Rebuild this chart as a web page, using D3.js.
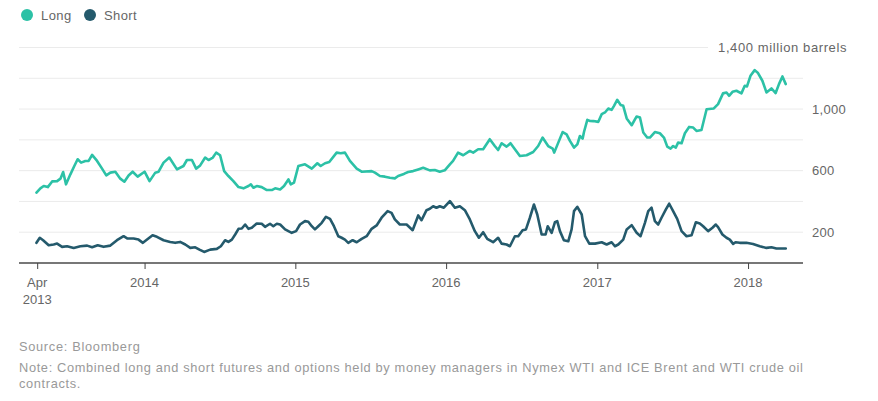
<!DOCTYPE html>
<html>
<head>
<meta charset="utf-8">
<script src="https://cdn.jsdelivr.net/npm/d3@7"></script>
<style>
  html, body { margin: 0; padding: 0; background: #fff; }
  svg { display: block; font-family: "Liberation Sans", Arial, sans-serif; }
</style>
</head>
<body>
<svg id="chart" width="878" height="401"></svg>
<script>
// ---- data (dates as decimal years, values in million barrels) ----
const seriesNames = ["Long", "Short"];
const longT = [2013.283,2013.309,2013.331,2013.358,2013.387,2013.420,2013.442,2013.460,2013.479,2013.508,2013.534,2013.556,2013.579,2013.607,2013.629,2013.652,2013.685,2013.718,2013.746,2013.773,2013.806,2013.839,2013.866,2013.894,2013.921,2013.954,2014.000,2014.033,2014.071,2014.093,2014.126,2014.164,2014.215,2014.258,2014.281,2014.314,2014.342,2014.369,2014.402,2014.424,2014.453,2014.475,2014.501,2014.528,2014.556,2014.589,2014.623,2014.656,2014.689,2014.705,2014.722,2014.744,2014.777,2014.811,2014.844,2014.866,2014.899,2014.925,2014.954,2014.970,2014.991,2015.020,2015.064,2015.109,2015.146,2015.168,2015.197,2015.225,2015.274,2015.301,2015.329,2015.362,2015.407,2015.440,2015.506,2015.528,2015.561,2015.594,2015.627,2015.660,2015.682,2015.715,2015.727,2015.748,2015.781,2015.815,2015.848,2015.892,2015.925,2015.958,2015.991,2016.025,2016.046,2016.079,2016.113,2016.157,2016.179,2016.212,2016.245,2016.289,2016.322,2016.344,2016.367,2016.400,2016.426,2016.455,2016.488,2016.532,2016.576,2016.609,2016.638,2016.675,2016.705,2016.715,2016.742,2016.771,2016.797,2016.819,2016.846,2016.868,2016.885,2016.903,2016.912,2016.934,2016.952,2016.974,2017.007,2017.029,2017.051,2017.073,2017.095,2017.111,2017.132,2017.155,2017.172,2017.195,2017.228,2017.261,2017.283,2017.305,2017.331,2017.349,2017.382,2017.415,2017.442,2017.464,2017.486,2017.503,2017.521,2017.536,2017.559,2017.581,2017.609,2017.636,2017.658,2017.691,2017.725,2017.773,2017.801,2017.834,2017.857,2017.874,2017.897,2017.923,2017.956,2017.978,2017.993,2018.016,2018.044,2018.066,2018.095,2018.122,2018.155,2018.183,2018.205,2018.228,2018.250];
const longV = [457,485,500,493,530,532,548,591,511,576,630,674,652,663,663,702,663,613,569,587,593,548,528,569,593,561,593,532,587,593,652,685,608,630,669,669,613,634,685,669,685,717,700,597,565,532,493,485,500,511,489,500,493,474,474,485,478,500,543,511,522,630,641,613,648,630,648,656,717,713,717,663,613,593,597,587,565,561,554,550,565,576,582,591,597,608,619,602,604,593,602,641,663,717,700,728,717,739,739,804,760,734,778,756,778,739,695,700,721,760,815,760,743,717,782,851,836,793,750,771,825,808,851,930,923,922,917,967,978,1004,995,1021,1060,1027,1021,939,895,952,945,848,815,815,851,843,815,756,743,760,750,782,778,843,884,880,858,864,999,1004,1032,1102,1108,1086,1112,1119,1102,1151,1147,1216,1253,1234,1184,1108,1134,1104,1162,1212,1162];
const shortT = [2013.283,2013.305,2013.327,2013.364,2013.397,2013.420,2013.453,2013.486,2013.530,2013.574,2013.619,2013.652,2013.689,2013.728,2013.773,2013.817,2013.861,2013.887,2013.927,2013.960,2013.989,2014.023,2014.053,2014.082,2014.126,2014.170,2014.203,2014.236,2014.270,2014.303,2014.336,2014.364,2014.395,2014.435,2014.479,2014.506,2014.534,2014.556,2014.579,2014.601,2014.623,2014.645,2014.667,2014.689,2014.711,2014.744,2014.777,2014.799,2014.832,2014.854,2014.877,2014.899,2014.932,2014.976,2015.005,2015.031,2015.064,2015.086,2015.109,2015.130,2015.152,2015.175,2015.203,2015.230,2015.256,2015.285,2015.307,2015.329,2015.351,2015.380,2015.407,2015.440,2015.473,2015.506,2015.539,2015.572,2015.612,2015.638,2015.660,2015.693,2015.738,2015.778,2015.815,2015.837,2015.870,2015.892,2015.914,2015.936,2015.958,2015.985,2016.025,2016.058,2016.091,2016.124,2016.157,2016.190,2016.217,2016.245,2016.272,2016.311,2016.344,2016.367,2016.400,2016.422,2016.455,2016.477,2016.506,2016.528,2016.554,2016.581,2016.603,2016.632,2016.658,2016.672,2016.698,2016.720,2016.735,2016.753,2016.779,2016.808,2016.830,2016.846,2016.868,2016.897,2016.919,2016.947,2016.985,2017.029,2017.062,2017.095,2017.117,2017.139,2017.172,2017.195,2017.228,2017.261,2017.287,2017.316,2017.338,2017.360,2017.382,2017.404,2017.426,2017.455,2017.477,2017.503,2017.530,2017.559,2017.592,2017.625,2017.654,2017.680,2017.702,2017.735,2017.764,2017.786,2017.801,2017.830,2017.857,2017.879,2017.901,2017.917,2017.945,2017.989,2018.033,2018.078,2018.122,2018.155,2018.188,2018.250];
const shortV = [131,164,148,115,120,126,105,109,98,109,113,102,115,105,113,148,174,159,159,152,131,157,180,170,148,137,131,137,120,98,102,87,72,87,92,109,148,137,152,185,222,224,250,222,229,257,255,235,255,239,255,250,218,196,207,250,272,268,239,218,239,261,300,287,239,174,164,152,131,148,135,157,174,222,244,294,337,326,283,250,250,213,309,278,343,352,369,359,369,359,402,359,369,343,283,207,164,200,157,135,164,126,120,109,174,174,213,218,294,380,315,185,185,239,196,265,272,207,148,141,218,337,365,315,174,126,126,135,120,135,109,120,152,218,246,196,174,261,337,359,272,250,294,348,385,337,287,207,174,180,265,257,239,207,229,250,233,185,164,152,124,135,131,131,124,109,98,102,94,94];
const yTicks = [200, 600, 1000, 1400];
const yGrid = [200, 400, 600, 800, 1000, 1200, 1400];
const xTickDates = ["2013-04-16", "2014-01-01", "2015-01-01", "2016-01-01", "2017-01-01", "2018-01-01"];
const xTickLabels = [["Apr", "2013"], ["2014"], ["2015"], ["2016"], ["2017"], ["2018"]];
const sourceText = "Source: Bloomberg";
const noteLines = ["Note: Combined long and short futures and options held by money managers in Nymex WTI and ICE Brent and WTI crude oil", "contracts."];
const unitLabel = "million barrels";

// ---- helpers ----
function decToDate(t) {
  const y = Math.floor(t);
  const start = new Date(y, 0, 1), end = new Date(y + 1, 0, 1);
  return new Date(start.getTime() + (t - y) * (end - start));
}
const parse = d3.timeParse("%Y-%m-%d");
const longData = longT.map((t, i) => ({ date: decToDate(t), value: longV[i] }));
const shortData = shortT.map((t, i) => ({ date: decToDate(t), value: shortV[i] }));

const colors = { Long: "#2cc1a6", Short: "#245a6c" };
const svg = d3.select("#chart");
const left = 19, right = 803, yTop = 47.5, yBottom = 263;

const x = d3.scaleTime()
  .domain([new Date(2013, 2, 3), new Date(2018, 4, 14)])
  .range([left, right]);
const y = d3.scaleLinear().domain([0, 1400]).range([yBottom, yTop]);

// grid
svg.append("g").selectAll("line").data(yGrid).join("line")
  .attr("x1", left)
  .attr("x2", d => d === 1400 ? 708 : right)
  .attr("y1", d => y(d)).attr("y2", d => y(d))
  .attr("stroke", "#ebebeb").attr("stroke-width", 1);

// y labels
const yl = svg.append("g").selectAll("text").data(yTicks).join("text")
  .attr("y", d => y(d))
  .attr("dy", "0.35em")
  .attr("font-size", 13)
  .attr("fill", "#666");
yl.filter(d => d !== 1400).attr("x", 812).attr("letter-spacing", 0.3).text(d => d3.format(",")(d));
yl.filter(d => d === 1400).attr("x", 847).attr("text-anchor", "end").attr("letter-spacing", 0.6)
  .text(d => d3.format(",")(d) + " " + unitLabel);

// x axis
const xAxis = d3.axisBottom(x)
  .tickValues(xTickDates.map(parse))
  .tickSize(6)
  .tickFormat("");
const gx = svg.append("g").attr("transform", `translate(0,${yBottom})`).call(xAxis);
gx.select(".domain").attr("d", `M${left},0H${right}`).attr("stroke", "#777").attr("stroke-width", 2);
gx.selectAll(".tick line").attr("stroke", "#444").attr("stroke-width", 1);

const tl = svg.append("g").selectAll("text").data(xTickDates).join("text")
  .attr("x", d => x(parse(d)))
  .attr("y", 287)
  .attr("text-anchor", "middle")
  .attr("font-size", 13)
  .attr("fill", "#666");
tl.each(function(d, i) {
  const t = d3.select(this);
  xTickLabels[i].forEach((s, j) => {
    t.append("tspan").attr("x", x(parse(d))).attr("dy", j === 0 ? 0 : 17).text(s);
  });
});

// lines
const line = d3.line().x(d => x(d.date)).y(d => y(d.value)).curve(d3.curveLinear);
svg.append("path").datum(shortData)
  .attr("fill", "none").attr("stroke", colors.Short).attr("stroke-width", 2.6)
  .attr("stroke-linejoin", "round").attr("stroke-linecap", "round")
  .attr("d", line);
svg.append("path").datum(longData)
  .attr("fill", "none").attr("stroke", colors.Long).attr("stroke-width", 2.6)
  .attr("stroke-linejoin", "round").attr("stroke-linecap", "round")
  .attr("d", line);

// legend
const legendX = [27, 90];
const lg = svg.append("g").selectAll("g").data(seriesNames).join("g")
  .attr("transform", (d, i) => `translate(${legendX[i]},15)`);
lg.append("circle").attr("r", 6).attr("fill", d => colors[d]);
lg.append("text").attr("x", 14).attr("dy", "0.35em").attr("letter-spacing", 0.4)
  .attr("font-size", 13).attr("fill", "#666").text(d => d);

// footer
svg.append("text").attr("x", 19).attr("y", 351).attr("letter-spacing", 0.7)
  .attr("font-size", 12.8).attr("fill", "#999").text(sourceText);
svg.append("g").selectAll("text").data(noteLines).join("text")
  .attr("x", 19).attr("y", (d, i) => 372 + i * 16)
  .attr("font-size", 12.8).attr("letter-spacing", 0.65).attr("fill", "#999").text(d => d);
</script>
</body>
</html>
